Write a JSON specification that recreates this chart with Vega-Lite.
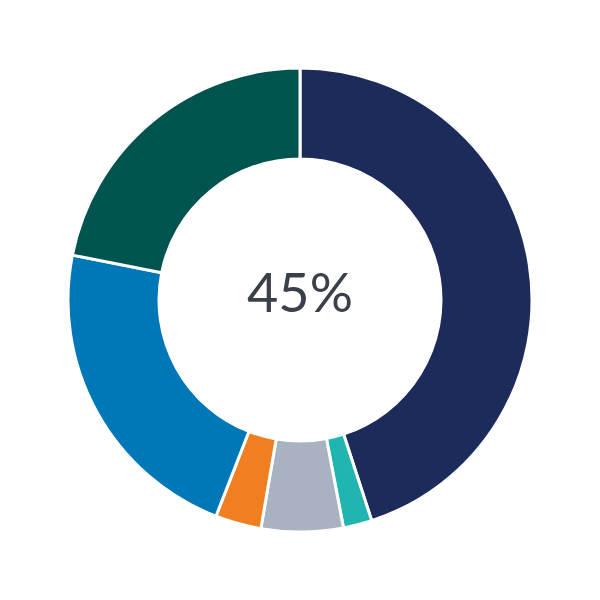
{
  "$schema": "https://vega.github.io/schema/vega-lite/v6.json",
  "width": 600,
  "height": 600,
  "padding": 0,
  "autosize": {"type": "fit", "contains": "padding"},
  "background": "white",
  "view": {"stroke": null},
  "data": {
    "values": [
      {"category": "A", "value": 45, "order": 1},
      {"category": "B", "value": 2, "order": 2},
      {"category": "C", "value": 5.7, "order": 3},
      {"category": "D", "value": 3.2, "order": 4},
      {"category": "E", "value": 22.2, "order": 5},
      {"category": "F", "value": 21.9, "order": 6}
    ]
  },
  "layer": [
    {
      "mark": {"type": "arc", "radius": 232, "radius2": 141, "stroke": "white", "strokeWidth": 3},
      "encoding": {
        "theta": {"field": "value", "type": "quantitative", "stack": true},
        "order": {"field": "order", "type": "quantitative"},
        "color": {
          "field": "category",
          "type": "nominal",
          "scale": {
            "domain": ["A", "B", "C", "D", "E", "F"],
            "range": ["#1c2b5a", "#20b5b0", "#a8b2c0", "#f07f22", "#0077b6", "#005450"]
          },
          "legend": null
        }
      }
    },
    {
      "data": {"values": [{"label": "45%"}]},
      "mark": {"type": "text", "fontSize": 54, "font": "Lato", "color": "#3a3f4a", "align": "center", "baseline": "middle", "dy": -4},
      "encoding": {"text": {"field": "label"}}
    }
  ]
}
